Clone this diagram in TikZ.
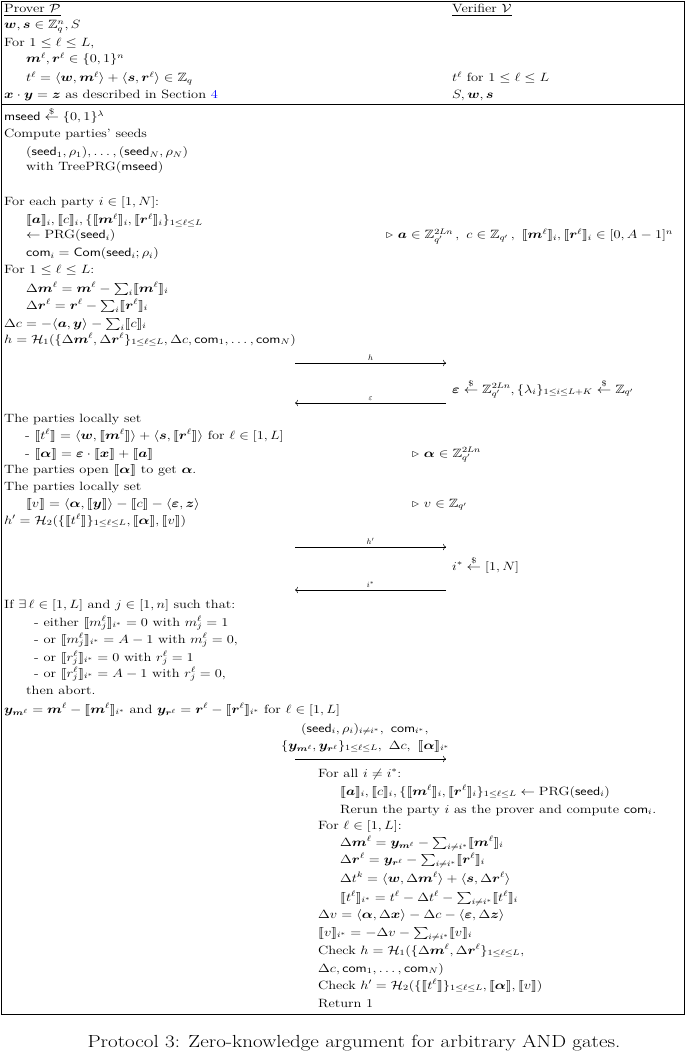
\documentclass[tikz,border=0pt]{standalone}
\usepackage{amsmath,amssymb,bm,stmaryrd}
\usetikzlibrary{arrows.meta}
\newcommand{\sx}[1]{\scalebox{1.2}[1]{#1}}
\newcommand{\sem}[1]{\llbracket #1\rrbracket}
\newcommand{\rs}{\overset{\$}{\leftarrow}}
\newcommand{\sd}{\mathsf{seed}}
\newcommand{\cm}{\mathsf{com}}
\begin{document}
\begin{tikzpicture}[x=1pt,y=1pt,
  txt/.style={anchor=base west,inner sep=0pt,font=\fontsize{12}{14}\selectfont},
  lab/.style={font=\fontsize{8}{9}\selectfont,inner sep=2pt,above},
  msg/.style={-{To[length=3pt]},line width=0.5pt}]
\useasboundingbox (0,0) rectangle (685,-1056);
\draw[line width=0.8pt] (1,-1) rectangle (684,-1014);
\draw[line width=0.8pt] (1,-104) -- (684,-104);
% header
\node[txt] (p) at (4,-13) {\sx{\underline{Prover $\mathcal{P}$}}};
\node[txt] (v) at (452,-13) {\sx{\underline{Verifier $\mathcal{V}$}}};
\node[txt] (h1) at (4,-29) {\sx{$\bm w,\bm s\in\mathbb{Z}_q^n, S$}};
\node[txt] (h2) at (4,-47) {\sx{For $1\le\ell\le L$,}};
\node[txt] (h3) at (26,-63) {\sx{$\bm m^\ell,\bm r^\ell\in\{0,1\}^n$}};
\node[txt] (h4) at (26,-82) {\sx{$t^\ell=\langle\bm w,\bm m^\ell\rangle+\langle\bm s,\bm r^\ell\rangle\in\mathbb{Z}_q$}};
\node[txt] (h5) at (452,-82) {\sx{$t^\ell$ for $1\le\ell\le L$}};
\node[txt] (h6) at (4,-99) {\sx{$\bm x\cdot\bm y=\bm z$ as described in Section \textcolor{blue}{4}}};
\node[txt] (h7) at (452,-99) {\sx{$S,\bm w,\bm s$}};
% body
\node[txt] (b1) at (4,-121) {\sx{$\mathsf{mseed}\rs\{0,1\}^\lambda$}};
\node[txt] (b2) at (4,-138) {\sx{Compute parties' seeds}};
\node[txt] (b3) at (26,-156) {\sx{$(\sd_1,\rho_1),\ldots,(\sd_N,\rho_N)$}};
\node[txt] (b4) at (26,-171) {\sx{with TreePRG($\mathsf{mseed}$)}};
\node[txt] (b5) at (4,-206) {\sx{For each party $i\in[1,N]$:}};
\node[txt] (b6) at (26,-224) {\sx{$\sem{\bm a}_i,\sem{c}_i,\{\sem{\bm m^\ell}_i,\sem{\bm r^\ell}_i\}_{1\le\ell\le L}$}};
\node[txt] (b7) at (26,-239) {\sx{$\leftarrow\mathrm{PRG}(\sd_i)$}};
\node[txt] (b8) at (386,-239) {\sx{$\triangleright\ \bm a\in\mathbb{Z}_{q'}^{2Ln}\,,\ c\in\mathbb{Z}_{q'}\,,\ \sem{\bm m^\ell}_i,\sem{\bm r^\ell}_i\in[0,A-1]^n$}};
\node[txt] (b9) at (26,-257) {\sx{$\cm_i=\mathsf{Com}(\sd_i;\rho_i)$}};
\node[txt] (b10) at (4,-274) {\sx{For $1\le\ell\le L$:}};
\node[txt] (b11) at (26,-292) {\sx{$\Delta\bm m^\ell=\bm m^\ell-\sum_i\sem{\bm m^\ell}_i$}};
\node[txt] (b12) at (26,-309) {\sx{$\Delta\bm r^\ell=\bm r^\ell-\sum_i\sem{\bm r^\ell}_i$}};
\node[txt] (b13) at (4,-327) {\sx{$\Delta c=-\langle\bm a,\bm y\rangle-\sum_i\sem{c}_i$}};
\node[txt] (b14) at (4,-343) {\sx{$h=\mathcal{H}_1(\{\Delta\bm m^\ell,\Delta\bm r^\ell\}_{1\le\ell\le L},\Delta c,\cm_1,\ldots,\cm_N)$}};
\coordinate (a1s) at (295,-363); \coordinate (a1e) at (446,-363);
\draw[msg] (a1s) -- node[lab] {$h$} (a1e);
\node[txt] (c1) at (452,-393) {\sx{$\bm\varepsilon\rs\mathbb{Z}_{q'}^{2Ln},\{\lambda_i\}_{1\le i\le L+K}\rs\mathbb{Z}_{q'}$}};
\coordinate (a2s) at (446,-403); \coordinate (a2e) at (295,-403);
\draw[msg] (a2s) -- node[lab] {$\varepsilon$} (a2e);
\node[txt] (d1) at (4,-422) {\sx{The parties locally set}};
\node[txt] (d2) at (25,-439) {\sx{- $\sem{t^\ell}=\langle\bm w,\sem{\bm m^\ell}\rangle+\langle\bm s,\sem{\bm r^\ell}\rangle$ for $\ell\in[1,L]$}};
\node[txt] (d3) at (25,-457) {\sx{- $\sem{\bm\alpha}=\bm\varepsilon\cdot\sem{\bm x}+\sem{\bm a}$}};
\node[txt] (d4) at (412,-457) {\sx{$\triangleright\ \bm\alpha\in\mathbb{Z}_{q'}^{2Ln}$}};
\node[txt] (d5) at (4,-473) {\sx{The parties open $\sem{\bm\alpha}$ to get $\bm\alpha$.}};
\node[txt] (d6) at (4,-490) {\sx{The parties locally set}};
\node[txt] (d7) at (26,-507) {\sx{$\sem{v}=\langle\bm\alpha,\sem{\bm y}\rangle-\sem{c}-\langle\bm\varepsilon,\bm z\rangle$}};
\node[txt] (d8) at (412,-507) {\sx{$\triangleright\ v\in\mathbb{Z}_{q'}$}};
\node[txt] (d9) at (4,-524) {\sx{$h'=\mathcal{H}_2(\{\sem{t^\ell}\}_{1\le\ell\le L},\sem{\bm\alpha},\sem{v})$}};
\coordinate (a3s) at (295,-547); \coordinate (a3e) at (446,-547);
\draw[msg] (a3s) -- node[lab] {$h'$} (a3e);
\node[txt] (e1) at (452,-570) {\sx{$i^*\rs[1,N]$}};
\coordinate (a4s) at (446,-590); \coordinate (a4e) at (295,-590);
\draw[msg] (a4s) -- node[lab] {$i^*$} (a4e);
\node[txt] (f1) at (4,-608) {\sx{If $\exists\,\ell\in[1,L]$ and $j\in[1,n]$ such that:}};
\node[txt] (f2) at (34,-626) {\sx{- either $\sem{m_j^\ell}_{i^*}=0$ with $m_j^\ell=1$}};
\node[txt] (f3) at (34,-643) {\sx{- or $\sem{m_j^\ell}_{i^*}=A-1$ with $m_j^\ell=0$,}};
\node[txt] (f4) at (34,-661) {\sx{- or $\sem{r_j^\ell}_{i^*}=0$ with $r_j^\ell=1$}};
\node[txt] (f5) at (34,-677) {\sx{- or $\sem{r_j^\ell}_{i^*}=A-1$ with $r_j^\ell=0$,}};
\node[txt] (f6) at (26,-694) {\sx{then abort.}};
\node[txt] (f7) at (4,-713) {\sx{$\bm y_{\bm m^\ell}=\bm m^\ell-\sem{\bm m^\ell}_{i^*}$ and $\bm y_{\bm r^\ell}=\bm r^\ell-\sem{\bm r^\ell}_{i^*}$ for $\ell\in[1,L]$}};
\node[txt] (g1) at (301,-732) {\sx{$(\sd_i,\rho_i)_{i\ne i^*},\ \cm_{i^*},$}};
\node[txt] (g2) at (281,-749) {\sx{$\{\bm y_{\bm m^\ell},\bm y_{\bm r^\ell}\}_{1\le\ell\le L},\ \Delta c,\ \sem{\bm\alpha}_{i^*}$}};
\coordinate (a5s) at (295,-759); \coordinate (a5e) at (446,-759);
\draw[msg] (a5s) -- (a5e);
\node[txt] (k1) at (318,-777) {\sx{For all $i\ne i^*$:}};
\node[txt] (k2) at (340,-795) {\sx{$\sem{\bm a}_i,\sem{c}_i,\{\sem{\bm m^\ell}_i,\sem{\bm r^\ell}_i\}_{1\le\ell\le L}\leftarrow\mathrm{PRG}(\sd_i)$}};
\node[txt] (k3) at (340,-813) {\sx{Rerun the party $i$ as the prover and compute $\cm_i$.}};
\node[txt] (k4) at (318,-829) {\sx{For $\ell\in[1,L]$:}};
\node[txt] (k5) at (340,-846) {\sx{$\Delta\bm m^\ell=\bm y_{\bm m^\ell}-\sum_{i\ne i^*}\sem{\bm m^\ell}_i$}};
\node[txt] (k6) at (340,-863) {\sx{$\Delta\bm r^\ell=\bm y_{\bm r^\ell}-\sum_{i\ne i^*}\sem{\bm r^\ell}_i$}};
\node[txt] (k7) at (340,-882) {\sx{$\Delta t^k=\langle\bm w,\Delta\bm m^\ell\rangle+\langle\bm s,\Delta\bm r^\ell\rangle$}};
\node[txt] (k8) at (340,-901) {\sx{$\sem{t^\ell}_{i^*}=t^\ell-\Delta t^\ell-\sum_{i\ne i^*}\sem{t^\ell}_i$}};
\node[txt] (k9) at (318,-918) {\sx{$\Delta v=\langle\bm\alpha,\Delta\bm x\rangle-\Delta c-\langle\bm\varepsilon,\Delta\bm z\rangle$}};
\node[txt] (k10) at (318,-936) {\sx{$\sem{v}_{i^*}=-\Delta v-\sum_{i\ne i^*}\sem{v}_i$}};
\node[txt] (k11) at (318,-954) {\sx{Check $h=\mathcal{H}_1(\{\Delta\bm m^\ell,\Delta\bm r^\ell\}_{1\le\ell\le L},$}};
\node[txt] (k12) at (318,-972) {\sx{$\Delta c,\cm_1,\ldots,\cm_N)$}};
\node[txt] (k13) at (318,-989) {\sx{Check $h'=\mathcal{H}_2(\{\sem{t^\ell}\}_{1\le\ell\le L},\sem{\bm\alpha},\sem{v})$}};
\node[txt] (k14) at (318,-1007) {\sx{Return 1}};
\node[anchor=base,inner sep=0pt,font=\fontsize{17.5}{20}\selectfont] (cap) at (354,-1047) {\sx{Protocol 3: Zero-knowledge argument for arbitrary AND gates.}};
\end{tikzpicture}
\end{document}
